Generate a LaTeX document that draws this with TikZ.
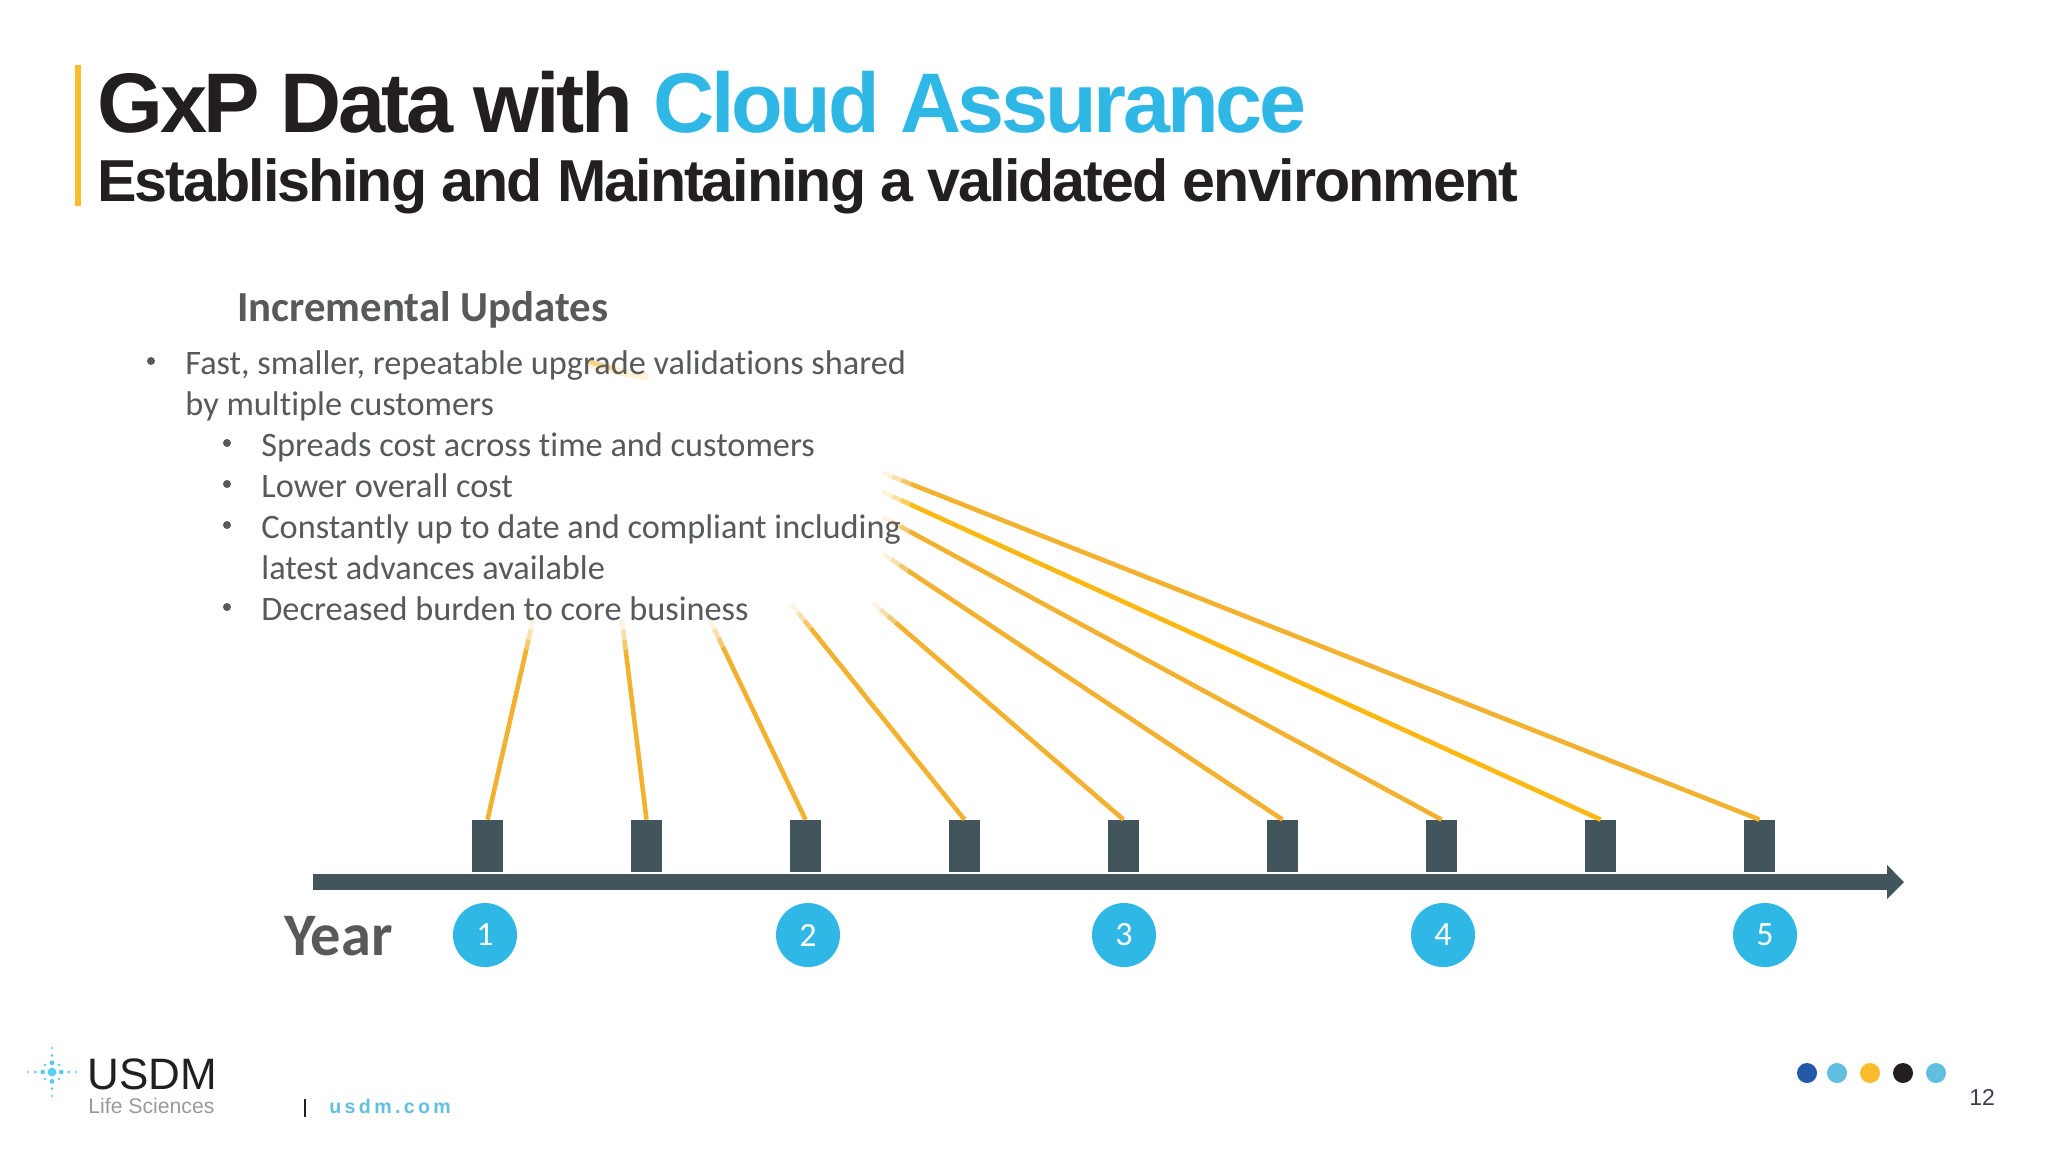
\documentclass[tikz,border=0pt]{standalone}
\usepackage{fontspec}
\setmainfont[Ligatures=NoCommon]{Carlito}
\newfontfamily\titlefont[LetterSpace=-3.9]{Liberation Sans}
\newfontfamily\headfont[LetterSpace=-3.4]{Liberation Sans}
\newfontfamily\logofont{Liberation Sans}
\newfontfamily\spacedfont[LetterSpace=17]{Liberation Sans}
\usetikzlibrary{arrows.meta,calc,positioning}

\definecolor{slatebar}{HTML}{42545C}
\definecolor{ambline}{HTML}{F2B230}
\definecolor{ambbright}{HTML}{FBB810}
\definecolor{ambbar}{HTML}{F9BC2C}
\definecolor{skyblue}{HTML}{2FB7E5}
\definecolor{paleblue}{HTML}{62BFDF}
\definecolor{logoblue}{HTML}{5CCBF2}
\definecolor{navblue}{HTML}{2458A8}
\definecolor{bodygrey}{HTML}{58595B}
\definecolor{inkdark}{HTML}{231F20}
\definecolor{pagegrey}{HTML}{3A3F4F}

\tikzset{
  txt/.style={inner sep=0pt,anchor=base west,text=bodygrey,font=\fontsize{17.15}{20}\selectfont},
  tickbox/.style={fill=slatebar,inner sep=0pt,minimum width=15.5pt,minimum height=26pt},
  yearcircle/.style={circle,fill=skyblue,text=white,inner sep=0pt,minimum size=32pt,font=\fontsize{17}{20}\selectfont},
  updateline/.style={line width=2.3pt},
  navdot/.style={circle,inner sep=0pt,minimum size=10pt},
  logodot/.style={circle,fill=logoblue,inner sep=0pt}
}

\begin{document}
\begin{tikzpicture}[x=0.5pt,y=-0.5pt]
  \path[use as bounding box,fill=white] (0,0) rectangle (2048,1153);

  % title
  \fill[ambbar] (75,65) rectangle (81,206);
  \node[inner sep=0pt,anchor=base west,text=inkdark,font=\titlefont\bfseries\fontsize{42.3}{48}\selectfont] (title) at (97,132)
    {GxP Data with \textcolor{skyblue}{Cloud Assurance}};
  \node[inner sep=0pt,anchor=base west,text=inkdark,font=\headfont\bfseries\fontsize{29.6}{34}\selectfont] (subtitle) at (97,201)
    {Establishing and Maintaining a validated environment};

  % timeline
  \coordinate (axisstart) at (313,882);
  \coordinate (axisend) at (1904,882);
  \draw[slatebar,line width=8pt,-{Triangle[length=8.5pt,width=16.5pt]}] (axisstart) -- (axisend);
  \foreach \tickno in {1,...,9}
    \node[tickbox] (tick\tickno) at ({487.5+159*(\tickno-1)},846) {};

  % lines from the ticks up to the text
  \foreach \tickno/\endx/\endy/\linecol in {1/533/620/ambline,2/622/620/ambline,3/710/620/ambline,
      4/792/605/ambline,5/873/603/ambline,6/883/554/ambline,7/883/517/ambline,8/883/492/ambbright,9/883/473/ambline} {
    \coordinate (end\tickno) at (\endx,\endy);
    \draw[updateline,\linecol] (tick\tickno.north) -- ($(end\tickno)!15pt!(tick\tickno.north)$);
    \foreach \from/\to/\fade in {15/10/70,10/5/40,5/0/15}
      \draw[updateline,\linecol,opacity=\fade/100] ($(end\tickno)!\from pt!(tick\tickno.north)$) -- ($(end\tickno)!\to pt!(tick\tickno.north)$);
  }
  \draw[ambline,line width=4pt,opacity=.18,line cap=round] (592,364) -- (617,371) -- (645,376);
  \draw[updateline,ambline,opacity=.45,line cap=round] (590,362) -- (612,368);

  % text block
  \node[txt,font=\bfseries\fontsize{21.4}{24}\selectfont] (heading) at (237,321) {Incremental Updates};
  \node[txt] (item1) at (185,374) {Fast, smaller, repeatable upgrade validations shared};
  \node[txt] (item1b) at (185,415) {by multiple customers};
  \node[txt] (item2) at (261,456) {Spreads cost across time and customers};
  \node[txt] (item3) at (261,497) {Lower overall cost};
  \node[txt] (item4) at (261,538) {Constantly up to date and compliant including};
  \node[txt] (item4b) at (261,579) {latest advances available};
  \node[txt] (item5) at (261,620) {Decreased burden to core business};
  \foreach \itemx/\itemy [count=\bulletno] in {151/361,227/443,227/484,227/525,227/607}
    \node[circle,fill=bodygrey,inner sep=0pt,minimum size=4pt] (bullet\bulletno) at (\itemx,\itemy) {};

  % years
  \node[inner sep=0pt,anchor=base west,text=bodygrey,font=\bfseries\fontsize{30.2}{34}\selectfont] (year) at (284,955) {Year};
  \foreach \yearx [count=\yearno] in {485,808,1124,1443,1765}
    \node[yearcircle] (year\yearno) at (\yearx,935) {\yearno};

  % logo
  \node[logodot,minimum size=4.4pt] (logomid) at (52,1072) {};
  \foreach \offs/\dotsize in {9.3/2.4,16.7/1.5,24/1.2} {
    \node[logodot,minimum size=\dotsize pt] at ($(logomid)+(\offs,0)$) {};
    \node[logodot,minimum size=\dotsize pt] at ($(logomid)+(-\offs,0)$) {};
    \node[logodot,minimum size=\dotsize pt] at ($(logomid)+(0,\offs)$) {};
    \node[logodot,minimum size=\dotsize pt] at ($(logomid)+(0,-\offs)$) {};
  }
  \foreach \dx/\dy in {7/7,-7/7,7/-7,-7/-7}
    \node[logodot,minimum size=1.4pt] at ($(logomid)+(\dx,\dy)$) {};
  \node[inner sep=0pt,anchor=base west,text=inkdark,font=\logofont\fontsize{22}{26}\selectfont] (usdm) at (87,1089) {USDM};
  \node[inner sep=0pt,anchor=base west,text=gray!80,font=\logofont\fontsize{10.6}{12}\selectfont] (lifesci) at (88,1113) {Life Sciences};
  \coordinate (sepa) at (305,1099);
  \coordinate (sepb) at (305,1117);
  \draw[inkdark,line width=1pt] (sepa) -- (sepb);
  \node[inner sep=0pt,anchor=base west,text=paleblue,font=\spacedfont\bfseries\fontsize{9.8}{12}\selectfont] (website) at (329,1113) {usdm.com};

  % footer dots
  \foreach \dotx/\dotcol [count=\dotno] in {1807/navblue,1837/paleblue,1870/ambbar,1903/inkdark,1936/paleblue}
    \node[navdot,fill=\dotcol] (navdot\dotno) at (\dotx,1073) {};
  \node[inner sep=0pt,anchor=base west,text=pagegrey,font=\logofont\fontsize{11.5}{14}\selectfont] (pageno) at (1969,1105) {12};
\end{tikzpicture}
\end{document}
